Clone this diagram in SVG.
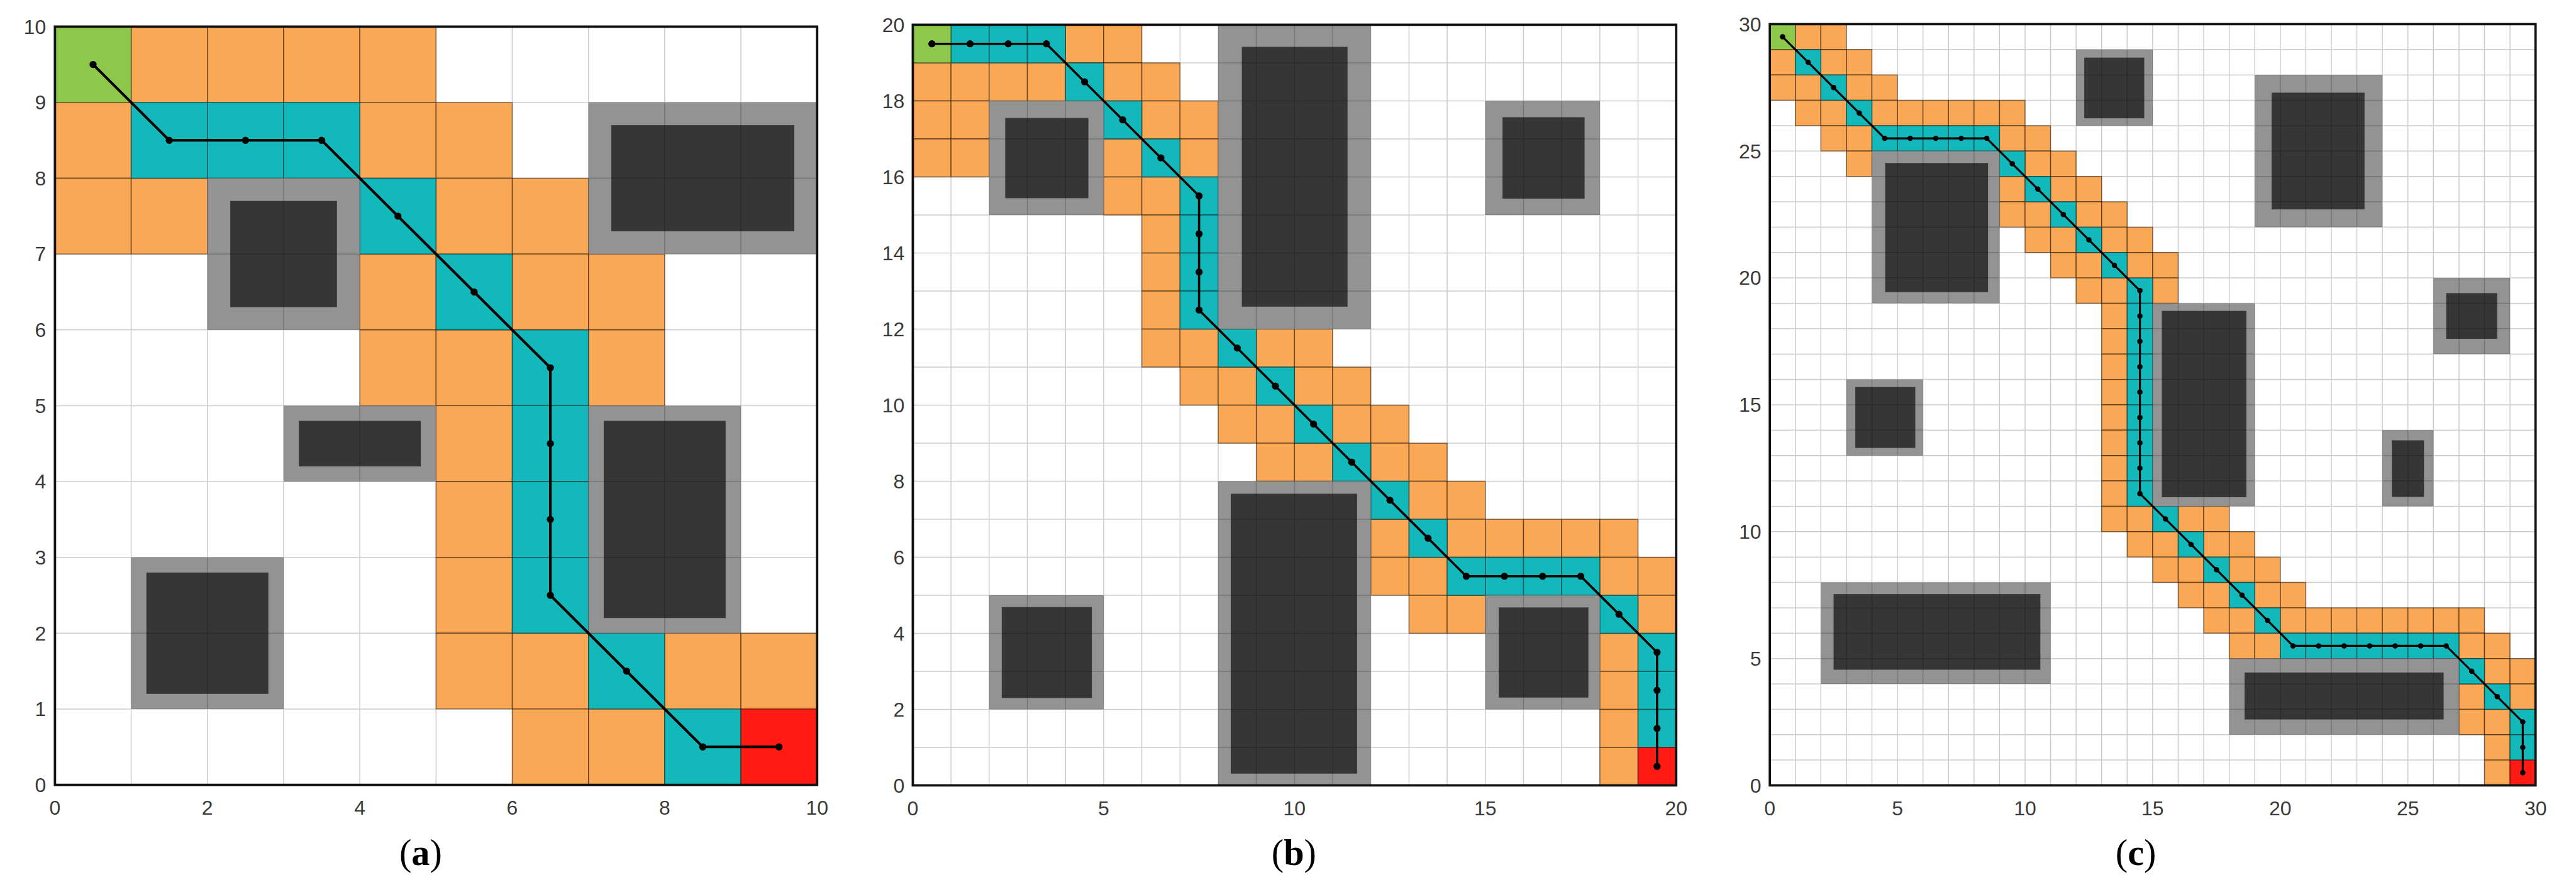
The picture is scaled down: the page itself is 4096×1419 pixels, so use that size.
<svg xmlns="http://www.w3.org/2000/svg" xmlns:xlink="http://www.w3.org/1999/xlink" width="4096" height="1419" viewBox="0 0 4096 1419">
<style>
.o{fill:#faa855;stroke:#3a2410;stroke-opacity:.55;stroke-width:1.4}
.t{fill:#13b8bb;stroke:#0a3a3a;stroke-opacity:.55;stroke-width:1.4}
.g{fill:#8dc84a;stroke:#2a3a10;stroke-opacity:.5;stroke-width:1.4}
.r{fill:#ff1a14;stroke:#400;stroke-opacity:.5;stroke-width:1.4}
.gy{fill:#939393}
.dk{fill:#363636}
.grid{fill:none;stroke:#000;stroke-opacity:.2;stroke-width:1.5;vector-effect:non-scaling-stroke}
.frame{fill:none;stroke:#111;stroke-width:3.8;vector-effect:non-scaling-stroke}
.path{fill:none;stroke:#000;stroke-linejoin:round;vector-effect:non-scaling-stroke}
.dot{fill:#000}
.tk{font-family:"Liberation Sans",Arial,sans-serif;font-size:34px;fill:#3a3a3a}
.ty{text-anchor:end}
.tx{text-anchor:middle}
.cap{font-family:"Liberation Serif","Times New Roman",serif;font-size:62px;fill:#000;text-anchor:middle}
</style>
<defs>
<rect id="u" width="1" height="1" vector-effect="non-scaling-stroke"/>
</defs>
<rect width="4096" height="1419" fill="#fff"/>
<g transform="scale(0.93945)">

<!-- Panel (a) -->
<g id="panel-a">
<g transform="translate(93 1329) scale(129 -128.4)">
<rect width="10" height="10" fill="#fff"/>
<g id="a-open" class="o">
<use href="#u" x="1" y="9"/><use href="#u" x="2" y="9"/><use href="#u" x="3" y="9"/><use href="#u" x="4" y="9"/>
<use href="#u" x="0" y="8"/><use href="#u" x="4" y="8"/><use href="#u" x="5" y="8"/>
<use href="#u" x="0" y="7"/><use href="#u" x="1" y="7"/><use href="#u" x="5" y="7"/><use href="#u" x="6" y="7"/>
<use href="#u" x="4" y="6"/><use href="#u" x="6" y="6"/><use href="#u" x="7" y="6"/>
<use href="#u" x="4" y="5"/><use href="#u" x="5" y="5"/><use href="#u" x="7" y="5"/>
<use href="#u" x="5" y="4"/><use href="#u" x="5" y="3"/><use href="#u" x="5" y="2"/>
<use href="#u" x="5" y="1"/><use href="#u" x="6" y="1"/><use href="#u" x="8" y="1"/><use href="#u" x="9" y="1"/>
<use href="#u" x="6" y="0"/><use href="#u" x="7" y="0"/>
</g>
<g id="a-route" class="t">
<use href="#u" x="1" y="8"/><use href="#u" x="2" y="8"/><use href="#u" x="3" y="8"/><use href="#u" x="4" y="7"/>
<use href="#u" x="5" y="6"/><use href="#u" x="6" y="5"/><use href="#u" x="6" y="4"/><use href="#u" x="6" y="3"/>
<use href="#u" x="6" y="2"/><use href="#u" x="7" y="1"/><use href="#u" x="8" y="0"/>
</g>
<use id="a-start" href="#u" class="g" x="0" y="9"/>
<use id="a-goal" href="#u" class="r" x="9" y="0"/>
<g id="a-obstacles">
<rect class="gy" x="7" y="7" width="3" height="2"/><rect class="dk" x="7.3" y="7.3" width="2.4" height="1.4"/>
<rect class="gy" x="2" y="6" width="2" height="2"/><rect class="dk" x="2.3" y="6.3" width="1.4" height="1.4"/>
<rect class="gy" x="3" y="4" width="2" height="1"/><rect class="dk" x="3.2" y="4.2" width="1.6" height="0.6"/>
<rect class="gy" x="7" y="2" width="2" height="3"/><rect class="dk" x="7.2" y="2.2" width="1.6" height="2.6"/>
<rect class="gy" x="1" y="1" width="2" height="2"/><rect class="dk" x="1.2" y="1.2" width="1.6" height="1.6"/>
</g>
<path class="grid" d="M1 0V10M2 0V10M3 0V10M4 0V10M5 0V10M6 0V10M7 0V10M8 0V10M9 0V10M0 1H10M0 2H10M0 3H10M0 4H10M0 5H10M0 6H10M0 7H10M0 8H10M0 9H10"/>
<rect class="frame" width="10" height="10"/>
<g id="a-connectors">
<polyline class="path" style="stroke-width:4.2" points="0.5,9.5 1.5,8.5 3.5,8.5 6.5,5.5 6.5,2.5 8.5,0.5 9.5,0.5"/>
<g class="dot">
<circle cx="0.5" cy="9.5" r="0.047"/><circle cx="1.5" cy="8.5" r="0.047"/><circle cx="2.5" cy="8.5" r="0.047"/><circle cx="3.5" cy="8.5" r="0.047"/>
<circle cx="4.5" cy="7.5" r="0.047"/><circle cx="5.5" cy="6.5" r="0.047"/><circle cx="6.5" cy="5.5" r="0.047"/><circle cx="6.5" cy="4.5" r="0.047"/>
<circle cx="6.5" cy="3.5" r="0.047"/><circle cx="6.5" cy="2.5" r="0.047"/><circle cx="7.5" cy="1.5" r="0.047"/><circle cx="8.5" cy="0.5" r="0.047"/><circle cx="9.5" cy="0.5" r="0.047"/>
</g>
</g>
</g>
<g class="tk ty">
<text x="78" y="1341">0</text><text x="78" y="1212.6">1</text><text x="78" y="1084.2">2</text><text x="78" y="955.8">3</text>
<text x="78" y="827.4">4</text><text x="78" y="699">5</text><text x="78" y="570.6">6</text><text x="78" y="442.2">7</text>
<text x="78" y="313.8">8</text><text x="78" y="185.4">9</text><text x="78" y="57">10</text>
</g>
<g class="tk tx">
<text x="93" y="1380">0</text><text x="351" y="1380">2</text><text x="609" y="1380">4</text>
<text x="867" y="1380">6</text><text x="1125" y="1380">8</text><text x="1383" y="1380">10</text>
</g>
<text class="cap" x="712" y="1465">(<tspan font-weight="bold">a</tspan>)</text>
</g>

<!-- Panel (b) -->
<g id="panel-b">
<g transform="translate(1545 1330) scale(64.6 -64.4)">
<rect width="20" height="20" fill="#fff"/>
<g id="b-open" class="o">
<use href="#u" x="4" y="19"/><use href="#u" x="5" y="19"/>
<use href="#u" x="0" y="18"/><use href="#u" x="1" y="18"/><use href="#u" x="2" y="18"/><use href="#u" x="3" y="18"/><use href="#u" x="5" y="18"/><use href="#u" x="6" y="18"/>
<use href="#u" x="0" y="17"/><use href="#u" x="1" y="17"/><use href="#u" x="6" y="17"/><use href="#u" x="7" y="17"/>
<use href="#u" x="0" y="16"/><use href="#u" x="1" y="16"/><use href="#u" x="5" y="16"/><use href="#u" x="7" y="16"/>
<use href="#u" x="5" y="15"/><use href="#u" x="6" y="15"/>
<use href="#u" x="6" y="14"/><use href="#u" x="6" y="13"/><use href="#u" x="6" y="12"/>
<use href="#u" x="6" y="11"/><use href="#u" x="7" y="11"/><use href="#u" x="9" y="11"/><use href="#u" x="10" y="11"/>
<use href="#u" x="7" y="10"/><use href="#u" x="8" y="10"/><use href="#u" x="10" y="10"/><use href="#u" x="11" y="10"/>
<use href="#u" x="8" y="9"/><use href="#u" x="9" y="9"/><use href="#u" x="11" y="9"/><use href="#u" x="12" y="9"/>
<use href="#u" x="9" y="8"/><use href="#u" x="10" y="8"/><use href="#u" x="12" y="8"/><use href="#u" x="13" y="8"/>
<use href="#u" x="13" y="7"/><use href="#u" x="14" y="7"/>
<use href="#u" x="12" y="6"/><use href="#u" x="14" y="6"/><use href="#u" x="15" y="6"/><use href="#u" x="16" y="6"/><use href="#u" x="17" y="6"/><use href="#u" x="18" y="6"/>
<use href="#u" x="12" y="5"/><use href="#u" x="13" y="5"/><use href="#u" x="18" y="5"/><use href="#u" x="19" y="5"/>
<use href="#u" x="13" y="4"/><use href="#u" x="14" y="4"/><use href="#u" x="19" y="4"/>
<use href="#u" x="18" y="3"/><use href="#u" x="18" y="2"/><use href="#u" x="18" y="1"/><use href="#u" x="18" y="0"/>
</g>
<g id="b-route" class="t">
<use href="#u" x="1" y="19"/><use href="#u" x="2" y="19"/><use href="#u" x="3" y="19"/><use href="#u" x="4" y="18"/>
<use href="#u" x="5" y="17"/><use href="#u" x="6" y="16"/><use href="#u" x="7" y="15"/><use href="#u" x="7" y="14"/>
<use href="#u" x="7" y="13"/><use href="#u" x="7" y="12"/><use href="#u" x="8" y="11"/><use href="#u" x="9" y="10"/>
<use href="#u" x="10" y="9"/><use href="#u" x="11" y="8"/><use href="#u" x="12" y="7"/><use href="#u" x="13" y="6"/>
<use href="#u" x="14" y="5"/><use href="#u" x="15" y="5"/><use href="#u" x="16" y="5"/><use href="#u" x="17" y="5"/>
<use href="#u" x="18" y="4"/><use href="#u" x="19" y="3"/><use href="#u" x="19" y="2"/><use href="#u" x="19" y="1"/>
</g>
<use id="b-start" href="#u" class="g" x="0" y="19"/>
<use id="b-goal" href="#u" class="r" x="19" y="0"/>
<g id="b-obstacles">
<rect class="gy" x="2" y="15" width="3" height="3"/><rect class="dk" x="2.42" y="15.44" width="2.18" height="2.11"/>
<rect class="gy" x="8" y="12" width="4" height="8"/><rect class="dk" x="8.62" y="12.59" width="2.77" height="6.83"/>
<rect class="gy" x="15" y="15" width="3" height="3"/><rect class="dk" x="15.45" y="15.43" width="2.15" height="2.14"/>
<rect class="gy" x="2" y="2" width="3" height="3"/><rect class="dk" x="2.33" y="2.3" width="2.36" height="2.39"/>
<rect class="gy" x="8" y="0" width="4" height="8"/><rect class="dk" x="8.33" y="0.31" width="3.31" height="7.36"/>
<rect class="gy" x="15" y="2" width="3" height="3"/><rect class="dk" x="15.35" y="2.31" width="2.35" height="2.37"/>
</g>
<path class="grid" d="M1 0V20M2 0V20M3 0V20M4 0V20M5 0V20M6 0V20M7 0V20M8 0V20M9 0V20M10 0V20M11 0V20M12 0V20M13 0V20M14 0V20M15 0V20M16 0V20M17 0V20M18 0V20M19 0V20M0 1H20M0 2H20M0 3H20M0 4H20M0 5H20M0 6H20M0 7H20M0 8H20M0 9H20M0 10H20M0 11H20M0 12H20M0 13H20M0 14H20M0 15H20M0 16H20M0 17H20M0 18H20M0 19H20"/>
<rect class="frame" width="20" height="20"/>
<g id="b-connectors">
<polyline class="path" style="stroke-width:3.6" points="0.5,19.5 3.5,19.5 7.5,15.5 7.5,12.5 14.5,5.5 17.5,5.5 19.5,3.5 19.5,0.5"/>
<g class="dot">
<circle cx="0.5" cy="19.5" r="0.093"/><circle cx="1.5" cy="19.5" r="0.093"/><circle cx="2.5" cy="19.5" r="0.093"/><circle cx="3.5" cy="19.5" r="0.093"/>
<circle cx="4.5" cy="18.5" r="0.093"/><circle cx="5.5" cy="17.5" r="0.093"/><circle cx="6.5" cy="16.5" r="0.093"/><circle cx="7.5" cy="15.5" r="0.093"/>
<circle cx="7.5" cy="14.5" r="0.093"/><circle cx="7.5" cy="13.5" r="0.093"/><circle cx="7.5" cy="12.5" r="0.093"/><circle cx="8.5" cy="11.5" r="0.093"/>
<circle cx="9.5" cy="10.5" r="0.093"/><circle cx="10.5" cy="9.5" r="0.093"/><circle cx="11.5" cy="8.5" r="0.093"/><circle cx="12.5" cy="7.5" r="0.093"/>
<circle cx="13.5" cy="6.5" r="0.093"/><circle cx="14.5" cy="5.5" r="0.093"/><circle cx="15.5" cy="5.5" r="0.093"/><circle cx="16.5" cy="5.5" r="0.093"/>
<circle cx="17.5" cy="5.5" r="0.093"/><circle cx="18.5" cy="4.5" r="0.093"/><circle cx="19.5" cy="3.5" r="0.093"/><circle cx="19.5" cy="2.5" r="0.093"/>
<circle cx="19.5" cy="1.5" r="0.093"/><circle cx="19.5" cy="0.5" r="0.093"/>
</g>
</g>
</g>
<g class="tk ty">
<text x="1531" y="1342">0</text><text x="1531" y="1213.2">2</text><text x="1531" y="1084.4">4</text><text x="1531" y="955.6">6</text>
<text x="1531" y="826.8">8</text><text x="1531" y="698">10</text><text x="1531" y="569.2">12</text><text x="1531" y="440.4">14</text>
<text x="1531" y="311.6">16</text><text x="1531" y="182.8">18</text><text x="1531" y="54">20</text>
</g>
<g class="tk tx">
<text x="1545" y="1381">0</text><text x="1868" y="1381">5</text><text x="2191" y="1381">10</text><text x="2514" y="1381">15</text><text x="2837" y="1381">20</text>
</g>
<text class="cap" x="2190" y="1465">(<tspan font-weight="bold">b</tspan>)</text>
</g>

<!-- Panel (c) -->
<g id="panel-c">
<g transform="translate(2995.5 1330) scale(43.2 -42.97)">
<rect width="30" height="30" fill="#fff"/>
<g id="c-open" class="o">
<use href="#u" x="1" y="29"/><use href="#u" x="2" y="29"/>
<use href="#u" x="0" y="28"/><use href="#u" x="2" y="28"/><use href="#u" x="3" y="28"/>
<use href="#u" x="0" y="27"/><use href="#u" x="1" y="27"/><use href="#u" x="3" y="27"/><use href="#u" x="4" y="27"/>
<use href="#u" x="1" y="26"/><use href="#u" x="2" y="26"/><use href="#u" x="4" y="26"/><use href="#u" x="5" y="26"/><use href="#u" x="6" y="26"/><use href="#u" x="7" y="26"/><use href="#u" x="8" y="26"/><use href="#u" x="9" y="26"/>
<use href="#u" x="2" y="25"/><use href="#u" x="3" y="25"/><use href="#u" x="9" y="25"/><use href="#u" x="10" y="25"/>
<use href="#u" x="3" y="24"/><use href="#u" x="10" y="24"/><use href="#u" x="11" y="24"/>
<use href="#u" x="9" y="23"/><use href="#u" x="11" y="23"/><use href="#u" x="12" y="23"/>
<use href="#u" x="9" y="22"/><use href="#u" x="10" y="22"/><use href="#u" x="12" y="22"/><use href="#u" x="13" y="22"/>
<use href="#u" x="10" y="21"/><use href="#u" x="11" y="21"/><use href="#u" x="13" y="21"/><use href="#u" x="14" y="21"/>
<use href="#u" x="11" y="20"/><use href="#u" x="12" y="20"/><use href="#u" x="14" y="20"/><use href="#u" x="15" y="20"/>
<use href="#u" x="12" y="19"/><use href="#u" x="13" y="19"/><use href="#u" x="15" y="19"/>
<use href="#u" x="13" y="18"/><use href="#u" x="13" y="17"/><use href="#u" x="13" y="16"/><use href="#u" x="13" y="15"/>
<use href="#u" x="13" y="14"/><use href="#u" x="13" y="13"/><use href="#u" x="13" y="12"/><use href="#u" x="13" y="11"/>
<use href="#u" x="13" y="10"/><use href="#u" x="14" y="10"/><use href="#u" x="16" y="10"/><use href="#u" x="17" y="10"/>
<use href="#u" x="14" y="9"/><use href="#u" x="15" y="9"/><use href="#u" x="17" y="9"/><use href="#u" x="18" y="9"/>
<use href="#u" x="15" y="8"/><use href="#u" x="16" y="8"/><use href="#u" x="18" y="8"/><use href="#u" x="19" y="8"/>
<use href="#u" x="16" y="7"/><use href="#u" x="17" y="7"/><use href="#u" x="19" y="7"/><use href="#u" x="20" y="7"/>
<use href="#u" x="17" y="6"/><use href="#u" x="18" y="6"/><use href="#u" x="20" y="6"/><use href="#u" x="21" y="6"/><use href="#u" x="22" y="6"/><use href="#u" x="23" y="6"/><use href="#u" x="24" y="6"/><use href="#u" x="25" y="6"/><use href="#u" x="26" y="6"/><use href="#u" x="27" y="6"/>
<use href="#u" x="18" y="5"/><use href="#u" x="19" y="5"/><use href="#u" x="27" y="5"/><use href="#u" x="28" y="5"/>
<use href="#u" x="28" y="4"/><use href="#u" x="29" y="4"/>
<use href="#u" x="27" y="3"/><use href="#u" x="29" y="3"/>
<use href="#u" x="27" y="2"/><use href="#u" x="28" y="2"/>
<use href="#u" x="28" y="1"/><use href="#u" x="28" y="0"/>
</g>
<g id="c-route" class="t">
<use href="#u" x="1" y="28"/><use href="#u" x="2" y="27"/><use href="#u" x="3" y="26"/><use href="#u" x="4" y="25"/>
<use href="#u" x="5" y="25"/><use href="#u" x="6" y="25"/><use href="#u" x="7" y="25"/><use href="#u" x="8" y="25"/>
<use href="#u" x="9" y="24"/><use href="#u" x="10" y="23"/><use href="#u" x="11" y="22"/><use href="#u" x="12" y="21"/>
<use href="#u" x="13" y="20"/><use href="#u" x="14" y="19"/><use href="#u" x="14" y="18"/><use href="#u" x="14" y="17"/>
<use href="#u" x="14" y="16"/><use href="#u" x="14" y="15"/><use href="#u" x="14" y="14"/><use href="#u" x="14" y="13"/>
<use href="#u" x="14" y="12"/><use href="#u" x="14" y="11"/><use href="#u" x="15" y="10"/><use href="#u" x="16" y="9"/>
<use href="#u" x="17" y="8"/><use href="#u" x="18" y="7"/><use href="#u" x="19" y="6"/><use href="#u" x="20" y="5"/>
<use href="#u" x="21" y="5"/><use href="#u" x="22" y="5"/><use href="#u" x="23" y="5"/><use href="#u" x="24" y="5"/>
<use href="#u" x="25" y="5"/><use href="#u" x="26" y="5"/><use href="#u" x="27" y="4"/><use href="#u" x="28" y="3"/>
<use href="#u" x="29" y="2"/><use href="#u" x="29" y="1"/>
</g>
<use id="c-start" href="#u" class="g" x="0" y="29"/>
<use id="c-goal" href="#u" class="r" x="29" y="0"/>
<g id="c-obstacles">
<rect class="gy" x="12" y="26" width="3" height="3"/><rect class="dk" x="12.32" y="26.29" width="2.35" height="2.39"/>
<rect class="gy" x="4" y="19" width="5" height="6"/><rect class="dk" x="4.52" y="19.44" width="4.03" height="5.09"/>
<rect class="gy" x="3" y="13" width="3" height="3"/><rect class="dk" x="3.35" y="13.3" width="2.35" height="2.4"/>
<rect class="gy" x="2" y="4" width="9" height="4"/><rect class="dk" x="2.5" y="4.56" width="8.1" height="2.98"/>
<rect class="gy" x="15" y="11" width="4" height="8"/><rect class="dk" x="15.36" y="11.36" width="3.31" height="7.34"/>
<rect class="gy" x="26" y="17" width="3" height="3"/><rect class="dk" x="26.5" y="17.6" width="2" height="1.8"/>
<rect class="gy" x="24" y="11" width="2" height="3"/><rect class="dk" x="24.37" y="11.37" width="1.26" height="2.23"/>
<rect class="gy" x="18" y="2" width="9" height="3"/><rect class="dk" x="18.6" y="2.6" width="7.8" height="1.85"/>
<rect class="gy" x="19" y="22" width="5" height="6"/><rect class="dk" x="19.66" y="22.7" width="3.64" height="4.6"/>
</g>
<path class="grid" d="M1 0V30M2 0V30M3 0V30M4 0V30M5 0V30M6 0V30M7 0V30M8 0V30M9 0V30M10 0V30M11 0V30M12 0V30M13 0V30M14 0V30M15 0V30M16 0V30M17 0V30M18 0V30M19 0V30M20 0V30M21 0V30M22 0V30M23 0V30M24 0V30M25 0V30M26 0V30M27 0V30M28 0V30M29 0V30M0 1H30M0 2H30M0 3H30M0 4H30M0 5H30M0 6H30M0 7H30M0 8H30M0 9H30M0 10H30M0 11H30M0 12H30M0 13H30M0 14H30M0 15H30M0 16H30M0 17H30M0 18H30M0 19H30M0 20H30M0 21H30M0 22H30M0 23H30M0 24H30M0 25H30M0 26H30M0 27H30M0 28H30M0 29H30"/>
<rect class="frame" width="30" height="30"/>
<g id="c-connectors">
<polyline class="path" style="stroke-width:3.2" points="0.5,29.5 4.5,25.5 8.5,25.5 14.5,19.5 14.5,11.5 20.5,5.5 26.5,5.5 29.5,2.5 29.5,0.5"/>
<g class="dot">
<circle cx="0.5" cy="29.5" r="0.105"/><circle cx="1.5" cy="28.5" r="0.105"/><circle cx="2.5" cy="27.5" r="0.105"/><circle cx="3.5" cy="26.5" r="0.105"/>
<circle cx="4.5" cy="25.5" r="0.105"/><circle cx="5.5" cy="25.5" r="0.105"/><circle cx="6.5" cy="25.5" r="0.105"/><circle cx="7.5" cy="25.5" r="0.105"/>
<circle cx="8.5" cy="25.5" r="0.105"/><circle cx="9.5" cy="24.5" r="0.105"/><circle cx="10.5" cy="23.5" r="0.105"/><circle cx="11.5" cy="22.5" r="0.105"/>
<circle cx="12.5" cy="21.5" r="0.105"/><circle cx="13.5" cy="20.5" r="0.105"/><circle cx="14.5" cy="19.5" r="0.105"/><circle cx="14.5" cy="18.5" r="0.105"/>
<circle cx="14.5" cy="17.5" r="0.105"/><circle cx="14.5" cy="16.5" r="0.105"/><circle cx="14.5" cy="15.5" r="0.105"/><circle cx="14.5" cy="14.5" r="0.105"/>
<circle cx="14.5" cy="13.5" r="0.105"/><circle cx="14.5" cy="12.5" r="0.105"/><circle cx="14.5" cy="11.5" r="0.105"/><circle cx="15.5" cy="10.5" r="0.105"/>
<circle cx="16.5" cy="9.5" r="0.105"/><circle cx="17.5" cy="8.5" r="0.105"/><circle cx="18.5" cy="7.5" r="0.105"/><circle cx="19.5" cy="6.5" r="0.105"/>
<circle cx="20.5" cy="5.5" r="0.105"/><circle cx="21.5" cy="5.5" r="0.105"/><circle cx="22.5" cy="5.5" r="0.105"/><circle cx="23.5" cy="5.5" r="0.105"/>
<circle cx="24.5" cy="5.5" r="0.105"/><circle cx="25.5" cy="5.5" r="0.105"/><circle cx="26.5" cy="5.5" r="0.105"/><circle cx="27.5" cy="4.5" r="0.105"/>
<circle cx="28.5" cy="3.5" r="0.105"/><circle cx="29.5" cy="2.5" r="0.105"/><circle cx="29.5" cy="1.5" r="0.105"/><circle cx="29.5" cy="0.5" r="0.105"/>
</g>
</g>
</g>
<g class="tk ty">
<text x="2981" y="1342">0</text><text x="2981" y="1127.2">5</text><text x="2981" y="912.3">10</text><text x="2981" y="697.5">15</text>
<text x="2981" y="482.6">20</text><text x="2981" y="267.8">25</text><text x="2981" y="52.9">30</text>
</g>
<g class="tk tx">
<text x="2995.5" y="1381">0</text><text x="3211.5" y="1381">5</text><text x="3427.5" y="1381">10</text><text x="3643.5" y="1381">15</text>
<text x="3859.5" y="1381">20</text><text x="4075.5" y="1381">25</text><text x="4291.5" y="1381">30</text>
</g>
<text class="cap" x="3615" y="1465">(<tspan font-weight="bold">c</tspan>)</text>
</g>

</g>
</svg>
